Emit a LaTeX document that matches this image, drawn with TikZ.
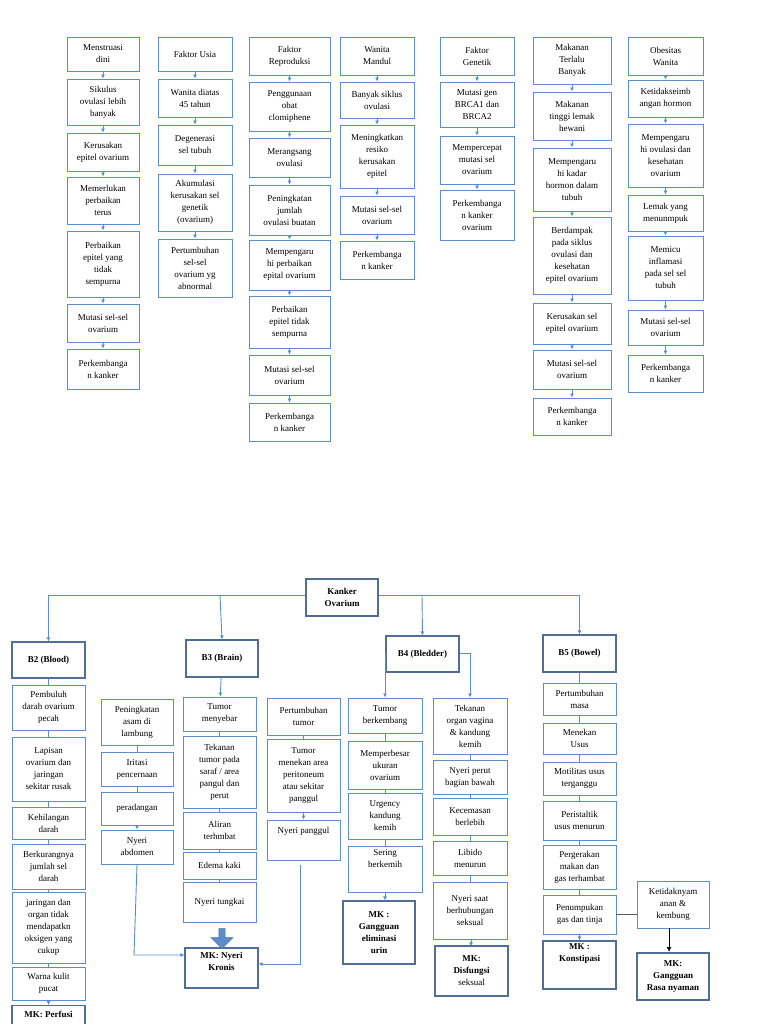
\documentclass[tikz,border=0pt]{standalone}
\usepackage{fontspec}
\setmainfont{Liberation Serif}
\usetikzlibrary{arrows.meta,shapes.arrows}
\definecolor{bl}{RGB}{91,141,205}
\definecolor{bd}{RGB}{80,110,150}
\tikzset{
 box/.style={draw=bl,line width=0.9pt,align=center,inner sep=1pt,font=\fontsize{9}{12}\selectfont},
 hbox/.style={box,draw=bd,line width=1.1pt,font=\fontsize{9}{12}\selectfont\bfseries},
 conn/.style={draw=bl,line width=0.9pt,-{Latex[length=4pt,width=4pt]}},
 ln/.style={draw=bl,line width=0.9pt},
}
\newcommand\bx[7][box]{\node[#1,minimum width={(#4-#2)*1pt},minimum height={(#5-#3)*1pt}] (#6) at ({(#2+#4)/2},{(#3+#5)/2}) {#7};}
\begin{document}
\begin{tikzpicture}[x=1pt,y=-1pt]
\useasboundingbox (0,0) rectangle (768,1024);
% ---------- top ----------
\bx{67}{37}{139}{71}{a1}{Menstruasi\\dini}
\bx{67}{79}{139}{125}{a2}{Sikulus\\ovulasi lebih\\banyak}
\bx{67}{133}{139}{171}{a3}{Kerusakan\\epitel ovarium}
\bx{67}{177}{139}{224}{a4}{Memerlukan\\perbaikan\\terus}
\bx{67}{231}{139}{297}{a5}{Perbaikan\\epitel yang\\tidak\\sempurna}
\bx{67}{304}{139}{342}{a6}{Mutasi sel-sel\\ovarium}
\bx{67}{349}{139}{389}{a7}{Perkembanga\\n kanker}
\foreach \i/\j in {1/2,2/3,3/4,4/5,5/6,6/7} \draw[conn] (a\i) -- (a\j);

\bx{158}{37}{232}{71}{b1}{Faktor Usia}
\bx{158}{79}{232}{117}{b2}{Wanita diatas\\45 tahun}
\bx{158}{125}{232}{165}{b3}{Degenerasi\\sel tubuh}
\bx{158}{174}{232}{231}{b4}{Akumulasi\\kerusakan sel\\genetik\\(ovarium)}
\bx{158}{239}{232}{297}{b5}{Pertumbuhan\\sel-sel\\ovarium yg\\abnormal}
\foreach \i/\j in {1/2,2/3,3/4,4/5} \draw[conn] (b\i) -- (b\j);

\bx{249}{37}{330}{75}{c1}{Faktor\\Reproduksi}
\bx{249}{82}{330}{131}{c2}{Penggunaan\\obat\\clomiphene}
\bx{249}{138}{330}{177}{c3}{Merangsang\\ovulasi}
\bx{249}{185}{330}{235}{c4}{Peningkatan\\jumlah\\ovulasi buatan}
\bx{249}{240}{330}{290}{c5}{Mempengaru\\hi perbaikan\\epital ovarium}
\bx{249}{296}{330}{348}{c6}{Perbaikan\\epitel tidak\\sempurna}
\bx{249}{355}{330}{395}{c7}{Mutasi sel-sel\\ovarium}
\bx{249}{403}{330}{441}{c8}{Perkembanga\\n kanker}
\foreach \i/\j in {1/2,2/3,3/4,4/5,5/6,6/7,7/8} \draw[conn] (c\i) -- (c\j);

\bx{340}{37}{414}{75}{d1}{Wanita\\Mandul}
\bx{340}{82}{414}{118}{d2}{Banyak siklus\\ovulasi}
\bx{340}{125}{414}{188}{d3}{Meningkatkan\\resiko\\kerusakan\\epitel}
\bx{340}{196}{414}{234}{d4}{Mutasi sel-sel\\ovarium}
\bx{340}{241}{414}{279}{d5}{Perkembanga\\n kanker}
\foreach \i/\j in {1/2,2/3,3/4,4/5} \draw[conn] (d\i) -- (d\j);

\bx{440}{37}{514}{75}{e1}{Faktor\\Genetik}
\bx{440}{82}{514}{127}{e2}{Mutasi gen\\BRCA1 dan\\BRCA2}
\bx{440}{136}{514}{184}{e3}{Mempercepat\\mutasi sel\\ovarium}
\bx{440}{190}{514}{240}{e4}{Perkembanga\\n kanker\\ovarium}
\foreach \i/\j in {1/2,2/3,3/4} \draw[conn] (e\i) -- (e\j);

\bx{533}{37}{611}{84}{f1}{Makanan\\Terlalu\\Banyak}
\bx{533}{92}{611}{140}{f2}{Makanan\\tinggi lemak\\hewani}
\bx{533}{148}{611}{211}{f3}{Mempengaru\\hi kadar\\hormon dalam\\tubuh}
\bx{533}{217}{611}{294}{f4}{Berdampak\\pada siklus\\ovulasi dan\\kesehatan\\epitel ovarium}
\bx{533}{303}{611}{344}{f5}{Kerusakan sel\\epitel ovarium}
\bx{533}{350}{611}{389}{f6}{Mutasi sel-sel\\ovarium}
\bx{533}{398}{611}{435}{f7}{Perkembanga\\n kanker}
\foreach \i/\j in {1/2,2/3,3/4,4/5,5/6,6/7} \draw[conn] (f\i) -- (f\j);

\bx{628}{37}{703}{75}{g1}{Obesitas\\Wanita}
\bx{628}{80}{703}{117}{g2}{Ketidakseimb\\angan hormon}
\bx{628}{124}{703}{187}{g3}{Mempengaru\\hi ovulasi dan\\kesehatan\\ovarium}
\bx{628}{195}{703}{231}{g4}{Lemak yang\\menunmpuk}
\bx{628}{236}{703}{300}{g5}{Memicu\\inflamasi\\pada sel sel\\tubuh}
\bx{628}{310}{703}{345}{g6}{Mutasi sel-sel\\ovarium}
\bx{628}{355}{703}{392}{g7}{Perkembanga\\n kanker}
\foreach \i/\j in {1/2,2/3,3/4,4/5,5/6,6/7} \draw[conn] (g\i) -- (g\j);

% ---------- bottom ----------
\bx[hbox]{306}{579}{378}{616}{ko}{Kanker\\Ovarium}
\bx[hbox]{12}{642}{85}{678}{B2}{B2 (Blood)}
\bx[hbox]{186}{640}{258}{677}{B3}{B3 (Brain)}
\bx[hbox]{386}{636}{459}{672}{B4}{B4 (Bledder)}
\bx[hbox]{543}{635}{616}{672}{B5}{B5 (Bowel)}
\draw[conn] (ko.west) ++(0,-2) -| (B2.north);
\draw[conn] (220,595) -- (B3.north);
\draw[conn] (ko.east) ++(0,-2) -| (B5.north);
\draw[conn] (422,595) -- (B4.north);

% B2
\bx{12}{685}{85}{730}{p1}{Pembuluh\\darah ovarium\\pecah}
\bx{12}{737}{85}{801}{p2}{Lapisan\\ovarium dan\\jaringan\\sekitar rusak}
\bx{12}{807}{85}{839}{p3}{Kehilangan\\darah}
\bx{12}{844}{85}{889}{p4}{Berkurangnya\\jumlah sel\\darah}
\bx{12}{892}{85}{963}{p5}{jaringan dan\\organ tidak\\mendapatkn\\oksigen yang\\cukup}
\bx{12}{967}{85}{1000}{p6}{Warna kulit\\pucat}
\node[hbox,minimum width=73pt,minimum height=30pt,anchor=north,inner sep=2pt] (p7) at (48.5,1005) {MK: Perfusi\\\phantom{x}};
\foreach \i/\j in {B2/p1,p1/p2,p2/p3,p3/p4,p4/p5,p5/p6} \draw[ln] (\i) -- (\j);
\draw[conn] (p6) -- (p7);

% B3
\bx{101}{699}{173}{745}{q1}{Peningkatan\\asam di\\lambung}
\bx{101}{752}{173}{786}{q2}{Iritasi\\pencernaan}
\bx{101}{792}{173}{825}{q3}{peradangan}
\bx{101}{830}{173}{864}{q4}{Nyeri\\abdomen}
\draw[ln] (q1) -- (q2); \draw[ln] (q2) -- (q3); \draw[conn] (q3) -- (q4);
\bx{183}{697}{256}{731}{r1}{Tumor\\menyebar}
\bx{183}{736}{256}{808}{r2}{Tekanan\\tumor pada\\saraf / area\\pangul dan\\perut}
\bx{183}{812}{256}{849}{r3}{Aliran\\terhmbat}
\bx{183}{852}{256}{879}{r4}{Edema kaki}
\bx{183}{882}{256}{922}{r5}{Nyeri tungkai}
\draw[conn] (B3) -- (r1);
\foreach \i/\j in {1/2,2/3,3/4,4/5} \draw[ln] (r\i) -- (r\j);
\bx[hbox]{185}{948}{258}{988}{mk3}{MK: Nyeri\\Kronis\\[2pt]}
\node[single arrow,shape border rotate=270,fill=bl,draw=bd,minimum height=20pt,minimum width=22pt,single arrow head extend=3pt,inner sep=1pt] (fa) at (222,937) {};
\bx{267}{698}{340}{735}{s1}{Pertumbuhan\\tumor}
\bx{267}{739}{340}{812}{s2}{Tumor\\menekan area\\peritoneum\\atau sekitar\\panggul}
\bx{267}{820}{340}{860}{s3}{Nyeri panggul\\[8pt]}
\draw[ln] (s1) -- (s2); \draw[conn] (s2) -- (s3);
\draw[conn] (q4.south) -- (134,955) -- (mk3.west |- 0,955);
\draw[conn] (300,865) -- (300,964) -- (mk3.east |- 0,964);

% B4
\bx{348}{698}{422}{733}{t1}{Tumor\\berkembang}
\bx{348}{741}{422}{789}{t2}{Memperbesar\\ukuran\\ovarium}
\bx{348}{793}{422}{839}{t3}{Urgency\\kandung\\kemih}
\bx{348}{846}{422}{892}{t4}{Sering\\berkemih\\[8pt]}
\bx[hbox]{343}{901}{415}{964}{t5}{MK :\\Gangguan\\eliminasi\\urin}
\draw[conn] (B4.west) ++(0,-1) -| (t1.north);
\foreach \i/\j in {1/2,2/3,3/4} \draw[ln] (t\i) -- (t\j);
\draw[conn] (t4.south) -- (t4.south |- t5.north);
\bx{433}{698}{507}{754}{u1}{Tekanan\\organ vagina\\\& kandung\\kemih}
\bx{433}{760}{507}{794}{u2}{Nyeri perut\\bagian bawah}
\bx{433}{798}{507}{835}{u3}{Kecemasan\\berlebih}
\bx{433}{841}{507}{875}{u4}{Libido\\menurun}
\bx{433}{882}{507}{939}{u5}{Nyeri saat\\berhubungan\\seksual}
\node[hbox,minimum width=73pt,minimum height=50pt] (u6) at (471.5,971) {MK:\\Disfungsi\\{\mdseries seksual}};
\draw[conn] (B4.east) ++(0,-1) -| (u1.north);
\foreach \i/\j in {1/2,2/3,3/4,4/5} \draw[ln] (u\i) -- (u\j);
\draw[conn] (u5.south) ++(1,0) -- ++(0,7);

% B5
\bx{543}{683}{616}{715}{v1}{Pertumbuhan\\masa}
\bx{543}{723}{616}{754}{v2}{Menekan\\Usus}
\bx{543}{762}{616}{795}{v3}{Motilitas usus\\terganggu}
\bx{543}{801}{616}{840}{v4}{Peristaltik\\usus menurun}
\bx{543}{845}{616}{889}{v5}{Pergerakan\\makan dan\\gas terhambat}
\bx{543}{895}{616}{934}{v6}{Penumpukan\\gas dan tinja}
\bx[hbox]{543}{941}{616}{989}{v7}{MK :\\Konstipasi\\[12pt]}
\foreach \i/\j in {B5/v1,v1/v2,v2/v3,v3/v4,v4/v5,v5/v6} \draw[ln] (\i) -- (\j);
\draw[conn] (v6) -- (v7);
\bx{637}{881}{709}{928}{w1}{Ketidaknyam\\anan \&\\kembung}
\bx[hbox]{637}{953}{709}{1000}{w2}{MK:\\Gangguan\\Rasa nyaman}
\draw[draw=gray!70!black,line width=0.9pt] (v6.east) -- (v6.east -| w1.west);
\draw[line width=0.9pt,-{Latex[length=5pt,width=5pt]}] (669,928) -- (669,952);
\end{tikzpicture}
\end{document}
